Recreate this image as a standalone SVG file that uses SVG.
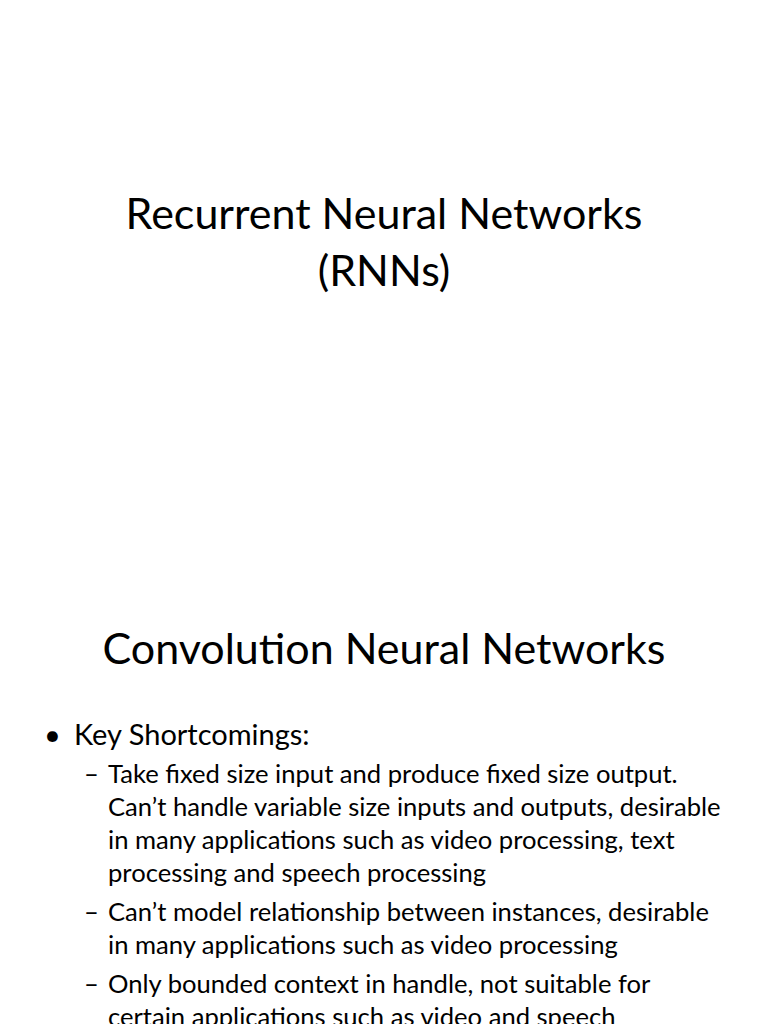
<svg xmlns="http://www.w3.org/2000/svg" width="768" height="1024" viewBox="0 0 768 1024">
<style>
text{font-family:Lato,"Open Sans","Liberation Sans",sans-serif;fill:#000}
.t{font-size:43px;text-anchor:middle}
.b{font-size:29px}
.s{font-size:25.6px}
</style>
<rect width="768" height="1024" fill="#fff"/>
<text class="t" x="384" y="229">Recurrent Neural Networks</text>
<text class="t" x="384" y="286">(RNNs)</text>
<text class="t" x="384" y="664">Convolution Neural Networks</text>
<text class="b" x="44" y="745">•</text>
<text class="b" x="74" y="745">Key Shortcomings:</text>
<g class="s">
<text class="s" x="84" y="783">–</text>
<text class="s" x="108" y="783">Take fixed size input and produce fixed size output.</text>
<text class="s" x="108" y="816">Can’t handle variable size inputs and outputs, desirable</text>
<text class="s" x="108" y="849">in many applications such as video processing, text</text>
<text class="s" x="108" y="882">processing and speech processing</text>
<text class="s" x="84" y="921">–</text>
<text class="s" x="108" y="921">Can’t model relationship between instances, desirable</text>
<text class="s" x="108" y="954">in many applications such as video processing</text>
<text class="s" x="84" y="993">–</text>
<text class="s" x="108" y="993">Only bounded context in handle, not suitable for</text>
<text class="s" x="108" y="1026">certain applications such as video and speech</text>
</g>
</svg>
